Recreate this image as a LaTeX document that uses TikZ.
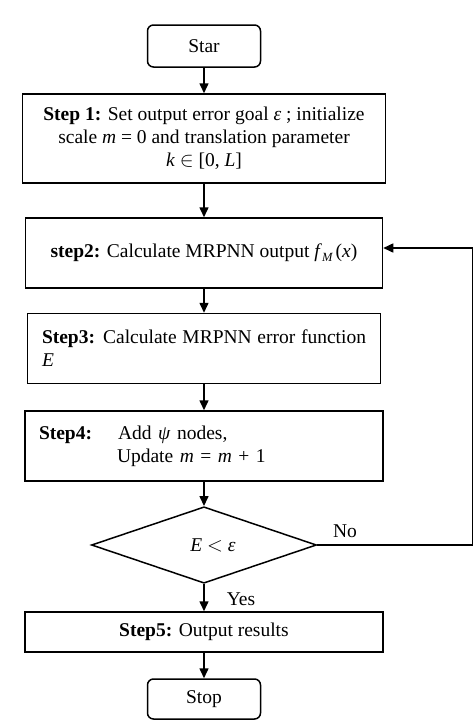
\documentclass[tikz,border=0pt]{standalone}
\usepackage{fontspec}
\setmainfont{Liberation Serif}
\usetikzlibrary{shapes.geometric,arrows.meta}
\newcommand\mvar[1]{\textit{#1}}
\tikzset{
  box/.style={draw,line width=1.5pt,minimum height=70pt,inner sep=0pt},
  term/.style={draw,line width=1.5pt,rounded corners=6pt,minimum width=113pt,minimum height=42pt},
  flow/.style={line width=1.5pt,-{Triangle[length=10pt,width=9pt]}},
}
\begin{document}
\begin{tikzpicture}[x=1pt,y=-1pt,font=\fontsize{19.5}{23}\selectfont]
\useasboundingbox (0,0) rectangle (474,721);
% terminals and steps
\node[term] (star) at (204,46) {Star};
\node[box,minimum width=363pt,minimum height=89pt,align=center] (s1) at (204,138.5)
  {\textbf{Step 1:} Set output error goal \mvar{ε} ; initialize\\ scale \mvar{m} = 0 and translation parameter\\ \mvar{k} $\in$ [0, \mvar{L}]};
\node[box,minimum width=357pt] (s2) at (204,253)
  {\textbf{step2:} Calculate MRPNN output \mvar{f}\raisebox{-4pt}{\fontsize{12.5}{12.5}\selectfont\itshape M}\,(\mvar{x})};
\node[box,minimum width=353pt,text width=324pt,align=justify] (s3) at (204,348.5)
  {\textbf{Step3:} Calculate MRPNN error function\linebreak \mvar{E}};
\node[box,minimum width=358pt,text width=330pt,align=left] (s4) at (204,446)
  {\textbf{Step4:}\hspace*{26pt}Add \mvar{ψ} nodes,\\ \hspace*{78pt}Update \mvar{m} = \mvar{m} + 1};
\node[draw,diamond,line width=1.5pt,minimum width=225pt,minimum height=74pt,inner sep=0pt] (dec) at (204,545) {\hspace*{18pt}\mvar{E} $<$ \mvar{ε}};
\node[box,minimum width=358pt,minimum height=40pt] (s5) at (204,632) {\textbf{Step5:} Output results};
\node[term,minimum height=40pt] (stop) at (204,699) {Stop};
% labels
\node (no) at (345,531) {No};
\node (yes) at (241,599) {Yes};
% connectors
\draw[flow] (star) -- (s1);
\draw[flow] (s1) -- (s2);
\draw[flow] (s2) -- (s3);
\draw[flow] (s3) -- (s4);
\draw[flow] (s4) -- (dec);
\draw[flow] (dec) -- (s5);
\draw[flow] (s5) -- (stop);
\coordinate (loopb) at (472.5,545);
\coordinate (loopt) at (472.5,248);
\draw[flow] (dec.east) -- (loopb) -- (loopt) -- (s2.east |- loopt);
\end{tikzpicture}
\end{document}
